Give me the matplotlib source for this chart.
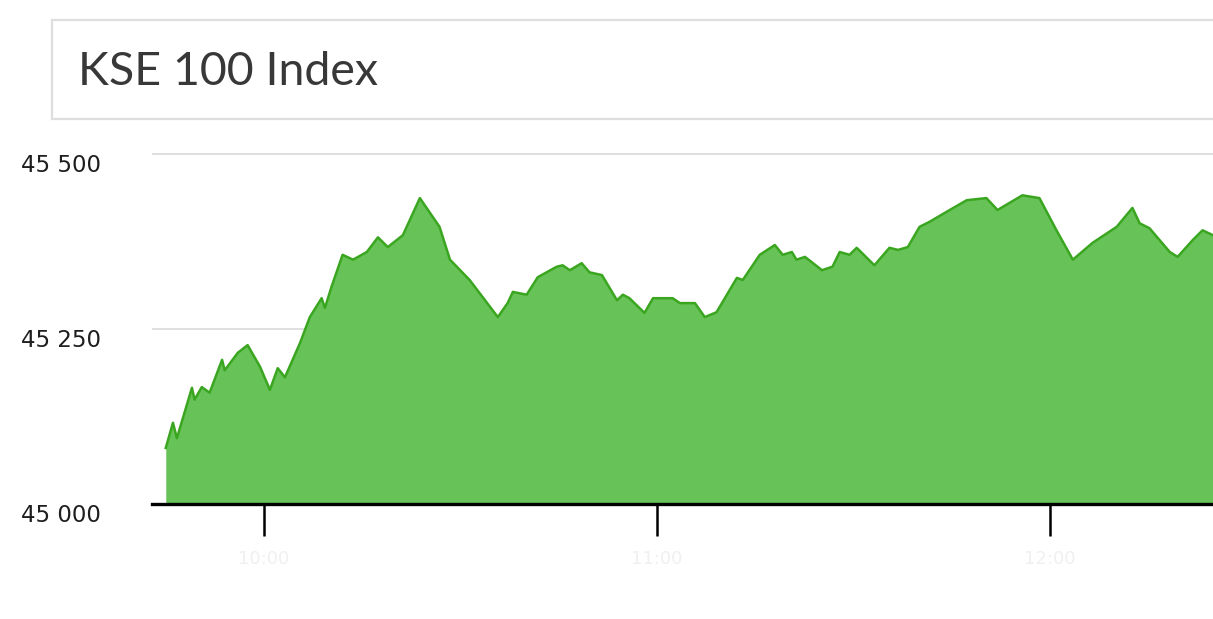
import matplotlib
matplotlib.use("Agg")
import matplotlib.pyplot as plt
from matplotlib.patches import Rectangle

# minutes after 09:45, index level
minutes = [0, 1.1, 1.7, 4.0, 4.4, 5.5, 6.7, 8.6, 9.0, 11.0, 12.5, 14.4, 15.9, 17.1,
           18.2, 20.5, 22.0, 23.8, 24.3, 25.3, 27.0, 28.6, 30.7, 32.4, 33.9, 36.2,
           38.8, 41.8, 43.4, 46.4, 50.7, 52.2, 53.0, 55.1, 56.8, 59.7, 60.6, 61.7,
           63.5, 64.7, 66.6, 68.9, 69.8, 70.8, 73.1, 74.4, 77.4, 78.5, 80.8, 82.3,
           84.1, 87.2, 88.1, 90.7, 93.0, 94.2, 95.6, 96.3, 97.6, 100.2, 101.8, 102.9,
           104.4, 105.5, 108.2, 110.5, 111.8, 113.3, 115.1, 116.6, 119.7, 122.3,
           125.3, 127.0, 130.8, 133.4, 136.0, 138.5, 141.5, 145.2, 147.6, 148.7,
           150.2, 153.3, 154.5, 156.8, 158.3, 159.9]
index = [45080, 45116, 45094, 45166, 45149, 45167, 45159, 45206, 45191, 45216, 45227,
         45196, 45163, 45194, 45181, 45230, 45267, 45294, 45280, 45310, 45356, 45349,
         45360, 45381, 45367, 45384, 45437, 45396, 45349, 45320, 45267, 45287, 45303,
         45299, 45324, 45339, 45341, 45334, 45344, 45331, 45327, 45291, 45299, 45294,
         45273, 45294, 45294, 45287, 45287, 45267, 45274, 45323, 45320, 45356, 45370,
         45356, 45360, 45349, 45353, 45334, 45339, 45360, 45356, 45366, 45341, 45366,
         45363, 45367, 45396, 45403, 45420, 45434, 45437, 45420, 45441, 45437, 45391,
         45349, 45373, 45396, 45423, 45401, 45394, 45360, 45353, 45377, 45391, 45384]

tick_pos = [15, 75, 135]
tick_labels = ["10:00", "11:00", "12:00"]
y_ticks = [45000, 45250, 45500]
y_labels = ["45 000", "45 250", "45 500"]

W, H = 1213, 619
fig = plt.figure(figsize=(W / 100, H / 100), dpi=100)

# title box
fig.patches.append(Rectangle((52 / W, 1 - 119 / H), 1.2, 99 / H, transform=fig.transFigure,
                             facecolor="white", edgecolor="#dedede", linewidth=1.6))
fig.text(78 / W, 1 - 72 / H, "KSE 100 Index", fontsize=33.5, family="Lato",
         color="#383838", va="center", ha="left")

ax = fig.add_axes([152 / W, (H - 504) / H, (W - 152) / W, 364 / H])
ax.fill_between(minutes, index, 45000, color="#67c258", linewidth=0)
ax.plot(minutes, index, color="#3aa620", linewidth=1.8)

ax.set_xlim(-2.1, 159.9)
ax.set_ylim(45000, 45520)
ax.set_yticks(y_ticks)
ax.set_yticklabels(y_labels)
ax.set_xticks(tick_pos)
ax.set_xticklabels(tick_labels, color="#f0f0f0", fontsize=13)

for y in y_ticks[1:]:
    ax.axhline(y, color="#d9d9d9", linewidth=1.2, zorder=0)

for s in ["top", "right", "left"]:
    ax.spines[s].set_visible(False)
ax.spines["bottom"].set_linewidth(2.4)
ax.spines["bottom"].set_color("black")
ax.spines["bottom"].set_zorder(5)

ax.tick_params(axis="y", length=0, pad=37, labelsize=16.5, labelcolor="#1e1e1e")
ax.tick_params(axis="x", length=23, width=1.8, color="black", pad=10)
for lab in ax.get_yticklabels():
    lab.set_verticalalignment("top")

fig.savefig("out.png", dpi=100)
